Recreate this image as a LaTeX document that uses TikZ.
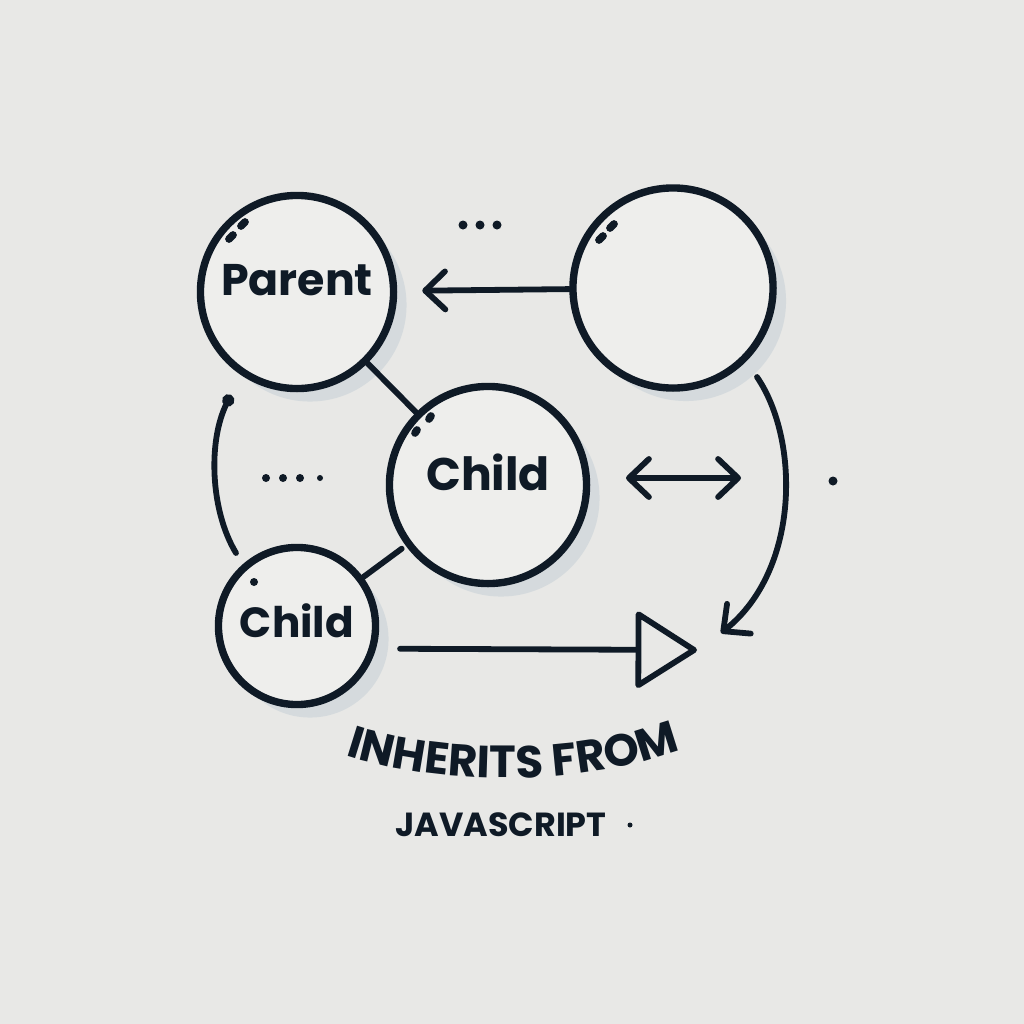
\documentclass[tikz,border=0pt]{standalone}
\usepackage{fontspec}
\setmainfont{Poppins}
\usepackage{xcolor}
\usepackage{tikz}
\usetikzlibrary{bayesnet,arrows.meta,shadows,decorations.text}

\definecolor{paper}{HTML}{E8E8E6}
\definecolor{disc}{HTML}{EEEEEC}
\definecolor{shade}{HTML}{C9D2D8}
\definecolor{ink}{HTML}{0F1A26}

\begin{document}
\begin{tikzpicture}[x=0.01cm, y=-0.01cm,
    ring/.style={latent, draw=ink, fill=disc, line width=2.1pt, text=ink,
      drop shadow={shadow xshift=0.13cm, shadow yshift=-0.13cm, fill=shade, opacity=0.6}},
    wire/.style={draw=ink, line width=1.65pt, line cap=round},
    glint/.style={ink, line width=2.2pt, line cap=round},
    chev/.tip={Straight Barb[length=0.2cm, width=0.38cm, round]},
    tri/.tip={Triangle[open, length=0.64cm, width=0.8cm, round]}]
      \fill[paper] (0,0) rectangle (1024,1024);
      \node[ring, minimum size=1.93cm, text depth=0.24cm, font=\bfseries\fontsize{12.6}{13}\selectfont] (P) at (297,292) {Parent};
      \node[ring, minimum size=2cm] (R) at (673,288) {};
      \node[ring, minimum size=1.97cm, text depth=0.26cm, font=\bfseries\fontsize{13}{13}\selectfont] (C1) at (488,485) {Child};
      \node[ring, minimum size=1.57cm, text depth=0.1cm, font=\bfseries\fontsize{12}{12}\selectfont] (C2) at (297,626) {Child};
      % glints
      \draw[glint] (229,239) -- (233,235);
      \draw[glint] (241,226) -- (245,222);
      \draw[glint] (599,240) -- (603,236);
      \draw[glint] (610,228) -- (614,224);
      \draw[glint] (415,433) -- (417,430);
      \draw[glint] (429,419) -- (431,416);
      \fill[ink] (254,582) circle (0.04cm);
      % dots
      \foreach \dx in {463,480,497} \fill[ink] (\dx,225) circle (0.045cm);
      \foreach \dx in {266,283,300} \fill[ink] (\dx,478) circle (0.04cm);
      \fill[ink] (320,478) circle (0.03cm);
      \fill[ink] (833,481) circle (0.045cm);
      % links
      \edge[-, wire]{P}{C1}
      \edge[-, wire, shorten >=0.05cm]{C2}{C1}
      \edge[wire, -chev, shorten >=0.25cm]{R}{P}
      \coordinate (d1) at (626,478);
      \coordinate (d2) at (741,478);
      \draw[wire, chev-chev] (d1) -- (d2);
      \coordinate (a1) at (757,377);
      \coordinate (a2) at (721,633);
      \draw[wire, -chev] (a1) .. controls (800,440) and (800,570) .. (a2);
      \coordinate (l1) at (231,395);
      \coordinate (l2) at (236,553);
      \draw[wire, {Circle[length=0.12cm]}-] (l1) .. controls (208,440) and (210,510) .. (l2);
      \coordinate (t) at (697,650);
      \draw[wire, -tri, shorten <=0.24cm] (C2.-16) -- (t);
      % captions
      \path[decorate, decoration={text along path, text align=center, text color=ink,
        text={|\bfseries\fontsize{12.8}{13}\selectfont|INHERITS{ }FROM}}]
        (336,752) .. controls (440,790) and (600,785) .. (690,746);
      \node[font=\bfseries\fontsize{9.5}{10}\selectfont, text=ink] (js) at (501,825) {JAVASCRIPT};
      \fill[ink] (630,825) circle (0.025cm);
    \end{tikzpicture}
\end{document}
